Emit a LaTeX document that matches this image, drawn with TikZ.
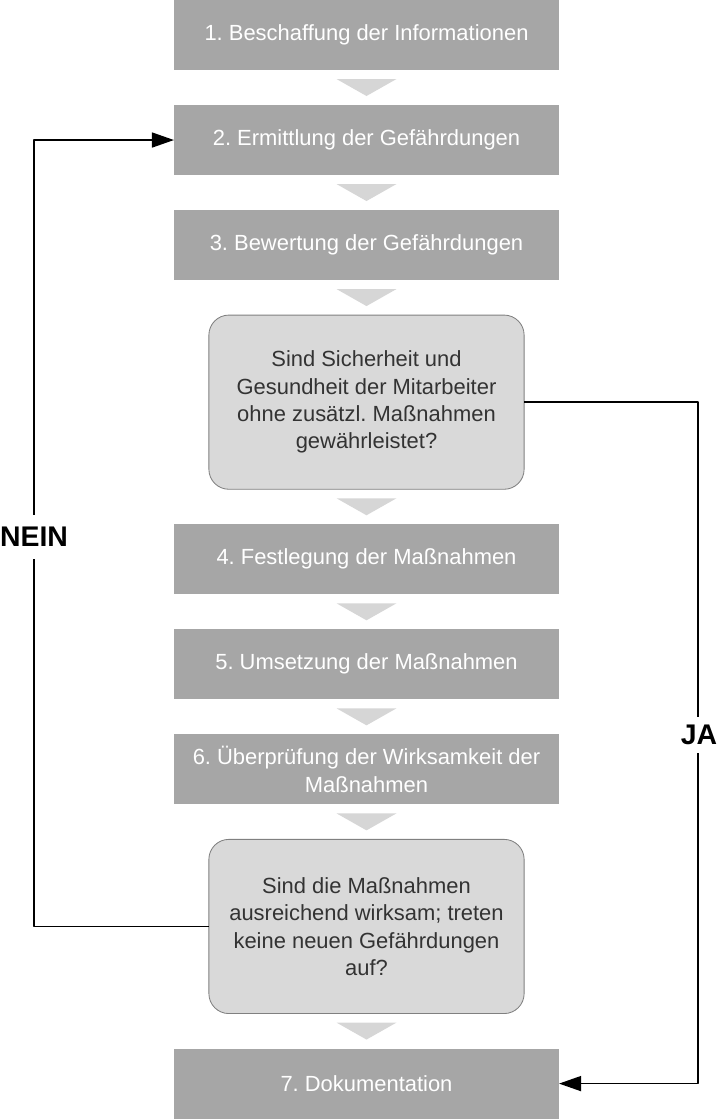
\documentclass[tikz,border=0pt]{standalone}
\usepackage{fontspec}
\setmainfont{Liberation Sans}
\usetikzlibrary{positioning,calc,arrows.meta}
\definecolor{boxgray}{HTML}{A6A6A6}
\definecolor{askgray}{HTML}{D9D9D9}
\definecolor{askline}{HTML}{808080}
\definecolor{asktext}{HTML}{333333}
\definecolor{trigray}{HTML}{D6D6D6}
\frenchspacing
\begin{document}
\begin{tikzpicture}[x=0.025cm,y=-0.025cm,font=\fontsize{15.6}{19.5}\selectfont,
	line join=round,>={Triangle[length=0.55cm,width=0.375cm]},node distance=0.875cm,
	stepbox/.style={fill=boxgray,text=white,minimum width=9.625cm,minimum height=1.75cm,align=center,
		inner sep=0pt,outer sep=0pt},
	askbox/.style={fill=askgray,draw=askline,line width=0.6pt,rounded corners=0.5cm,text=asktext,
		minimum width=7.9cm-0.6pt,minimum height=4.375cm-0.6pt,align=center,outer sep=0pt},
	answer/.style={font=\fontsize{20.2}{24}\selectfont\bfseries,fill=white,inner xsep=0pt},
	flow/.style={->,line width=1.1pt}]
			\useasboundingbox (0,0) rectangle (718,1120);
			\node[stepbox] (b1) at (366.5,35) {1. Beschaffung der Informationen};
			\node[stepbox,below=of b1] (b2) {2. Ermittlung der Gefährdungen};
			\node[stepbox,below=of b2] (b3) {3. Bewertung der Gefährdungen};
			\node[askbox,below=of b3] (q1) {Sind Sicherheit und\\Gesundheit der Mitarbeiter\\ohne zusätzl. Maßnahmen\\gewährleistet?};
			\node[stepbox,below=of q1] (b4) {4. Festlegung der Maßnahmen};
			\node[stepbox,below=of b4] (b5) {5. Umsetzung der Maßnahmen};
			\node[stepbox,below=of b5] (b6) {6. Überprüfung der Wirksamkeit der\\Maßnahmen};
			\node[askbox,below=of b6] (q2) {Sind die Maßnahmen\\ausreichend wirksam; treten\\keine neuen Gefährdungen\\auf?};
			\node[stepbox,below=of q2] (b7) {7. Dokumentation};
			\foreach \a/\b in {b1/b2,b2/b3,b3/q1,q1/b4,b4/b5,b5/b6,b6/q2,q2/b7}{\fill[trigray]
				($(\a.south)!0.5!(\b.north)$) +(-30,-8.5) -- +(30,-8.5) -- +(0,8.5) -- cycle;}
			\draw[flow] (q2.west) -- ++(-175,0) coordinate (nbend) |- (b2.west);
			\draw[flow] (q1.east) -- ++(174,0) coordinate (jbend) |- (b7.east);
			\node[answer,inner ysep=8.7pt] (nein) at (34,537) {NEIN};
			\node[answer,inner ysep=5.5pt] (ja) at (699,735) {JA};
\end{tikzpicture}
\end{document}
